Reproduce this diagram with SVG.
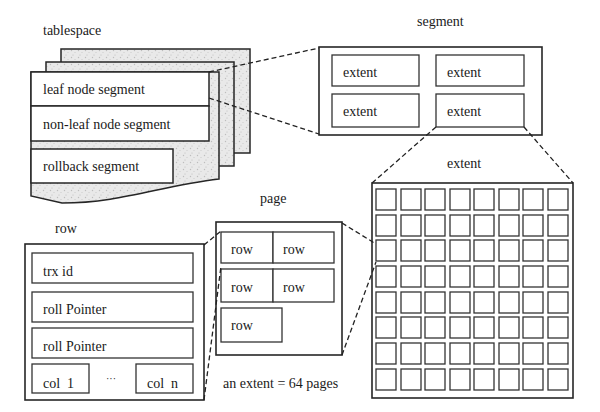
<svg xmlns="http://www.w3.org/2000/svg" width="600" height="412" viewBox="0 0 600 412">
<defs>
<pattern id="speck" width="7" height="7" patternUnits="userSpaceOnUse">
<rect width="7" height="7" fill="#e9e9e9"/>
<circle cx="1.5" cy="1.5" r="0.7" fill="#bdbdbd"/>
<circle cx="5" cy="3.5" r="0.6" fill="#c8c8c8"/>
<circle cx="3" cy="6" r="0.5" fill="#b5b5b5"/>
</pattern>
<style>
.b{fill:none;stroke:#262626;stroke-width:1.6}
.w{fill:#fff;stroke:#262626;stroke-width:1.5}
.s{fill:url(#speck);stroke:#262626;stroke-width:1.5}
.c{fill:#fff;stroke:#333;stroke-width:1.3}
.d{fill:none;stroke:#222;stroke-width:1.3;stroke-dasharray:5 3}
text{font-family:"Liberation Serif","Times New Roman",serif;font-size:14px;fill:#1a1a1a}
</style>
</defs>
<rect width="600" height="412" fill="#fff"/>

<g id="tablespace">
<text x="43" y="35">tablespace</text>
<rect class="s" x="61" y="49" width="189" height="104"/>
<rect class="s" x="46" y="62" width="188" height="104"/>
<path class="s" d="M31,72 H219 V179 C160,186 120,203 62,203 L31,196 Z"/>
<rect class="w" x="31" y="72" width="178" height="34"/>
<text x="43" y="94">leaf node segment</text>
<rect class="w" x="31" y="106" width="178" height="35"/>
<text x="43" y="129">non-leaf node segment</text>
<rect class="w" x="31" y="149" width="142" height="34"/>
<text x="43" y="171">rollback segment</text>
</g>

<g id="segment">
<text x="417" y="26">segment</text>
<rect class="b" x="319" y="47" width="223" height="88"/>
<rect class="c" x="332" y="55" width="87" height="31"/>
<text x="343" y="77">extent</text>
<rect class="c" x="436" y="55" width="88" height="31"/>
<text x="447" y="77">extent</text>
<rect class="c" x="332" y="94" width="87" height="33"/>
<text x="343" y="116">extent</text>
<rect class="c" x="436" y="94" width="88" height="33"/>
<text x="447" y="116">extent</text>
</g>

<g id="extent">
<text x="447" y="168">extent</text>
<rect class="b" x="372" y="183" width="201" height="215"/>
<g class="c">
<rect x="376" y="189" width="20" height="21"/><rect x="401" y="189" width="20" height="21"/><rect x="425" y="189" width="20" height="21"/><rect x="450" y="189" width="20" height="21"/><rect x="474" y="189" width="20" height="21"/><rect x="499" y="189" width="20" height="21"/><rect x="523" y="189" width="20" height="21"/><rect x="548" y="189" width="20" height="21"/>
<rect x="376" y="215" width="20" height="21"/><rect x="401" y="215" width="20" height="21"/><rect x="425" y="215" width="20" height="21"/><rect x="450" y="215" width="20" height="21"/><rect x="474" y="215" width="20" height="21"/><rect x="499" y="215" width="20" height="21"/><rect x="523" y="215" width="20" height="21"/><rect x="548" y="215" width="20" height="21"/>
<rect x="376" y="240" width="20" height="21"/><rect x="401" y="240" width="20" height="21"/><rect x="425" y="240" width="20" height="21"/><rect x="450" y="240" width="20" height="21"/><rect x="474" y="240" width="20" height="21"/><rect x="499" y="240" width="20" height="21"/><rect x="523" y="240" width="20" height="21"/><rect x="548" y="240" width="20" height="21"/>
<rect x="376" y="266" width="20" height="21"/><rect x="401" y="266" width="20" height="21"/><rect x="425" y="266" width="20" height="21"/><rect x="450" y="266" width="20" height="21"/><rect x="474" y="266" width="20" height="21"/><rect x="499" y="266" width="20" height="21"/><rect x="523" y="266" width="20" height="21"/><rect x="548" y="266" width="20" height="21"/>
<rect x="376" y="292" width="20" height="21"/><rect x="401" y="292" width="20" height="21"/><rect x="425" y="292" width="20" height="21"/><rect x="450" y="292" width="20" height="21"/><rect x="474" y="292" width="20" height="21"/><rect x="499" y="292" width="20" height="21"/><rect x="523" y="292" width="20" height="21"/><rect x="548" y="292" width="20" height="21"/>
<rect x="376" y="317" width="20" height="21"/><rect x="401" y="317" width="20" height="21"/><rect x="425" y="317" width="20" height="21"/><rect x="450" y="317" width="20" height="21"/><rect x="474" y="317" width="20" height="21"/><rect x="499" y="317" width="20" height="21"/><rect x="523" y="317" width="20" height="21"/><rect x="548" y="317" width="20" height="21"/>
<rect x="376" y="343" width="20" height="21"/><rect x="401" y="343" width="20" height="21"/><rect x="425" y="343" width="20" height="21"/><rect x="450" y="343" width="20" height="21"/><rect x="474" y="343" width="20" height="21"/><rect x="499" y="343" width="20" height="21"/><rect x="523" y="343" width="20" height="21"/><rect x="548" y="343" width="20" height="21"/>
<rect x="376" y="369" width="20" height="21"/><rect x="401" y="369" width="20" height="21"/><rect x="425" y="369" width="20" height="21"/><rect x="450" y="369" width="20" height="21"/><rect x="474" y="369" width="20" height="21"/><rect x="499" y="369" width="20" height="21"/><rect x="523" y="369" width="20" height="21"/><rect x="548" y="369" width="20" height="21"/>
</g>
</g>

<g id="page">
<text x="260" y="203">page</text>
<rect class="b" x="216" y="222" width="126" height="133"/>
<rect class="c" x="221" y="232" width="52" height="31"/>
<rect class="c" x="273" y="232" width="61" height="31"/>
<rect class="c" x="221" y="269" width="52" height="33"/>
<rect class="c" x="273" y="269" width="61" height="33"/>
<rect class="c" x="221" y="308" width="61" height="34"/>
<text x="231" y="254">row</text>
<text x="283" y="254">row</text>
<text x="231" y="292">row</text>
<text x="283" y="292">row</text>
<text x="231" y="330">row</text>
<text x="223" y="388">an extent = 64 pages</text>
</g>

<g id="row">
<text x="55" y="233">row</text>
<rect class="b" x="25" y="244" width="179" height="156"/>
<rect class="c" x="32" y="253" width="161" height="30"/>
<text x="43" y="276">trx id</text>
<rect class="c" x="32" y="292" width="161" height="30"/>
<text x="43" y="314">roll Pointer</text>
<rect class="c" x="32" y="328" width="161" height="30"/>
<text x="43" y="351">roll Pointer</text>
<rect class="c" x="32" y="364" width="57" height="29"/>
<text x="43" y="388" xml:space="preserve">col  1</text>
<text x="106" y="382" style="font-size:10px">···</text>
<rect class="c" x="136" y="364" width="57" height="29"/>
<text x="147" y="388" xml:space="preserve">col  n</text>
</g>

<g id="connectors">
<line class="d" x1="209" y1="72" x2="319" y2="48"/>
<line class="d" x1="209" y1="98" x2="319" y2="134"/>
<line class="d" x1="436" y1="127" x2="372" y2="183"/>
<line class="d" x1="524" y1="127" x2="573" y2="183"/>
<line class="d" x1="342" y1="223" x2="376" y2="244"/>
<line class="d" x1="342" y1="355" x2="376" y2="262"/>
<line class="d" x1="204" y1="245" x2="221" y2="231"/>
<line class="d" x1="204" y1="400" x2="221" y2="266"/>
</g>
</svg>
